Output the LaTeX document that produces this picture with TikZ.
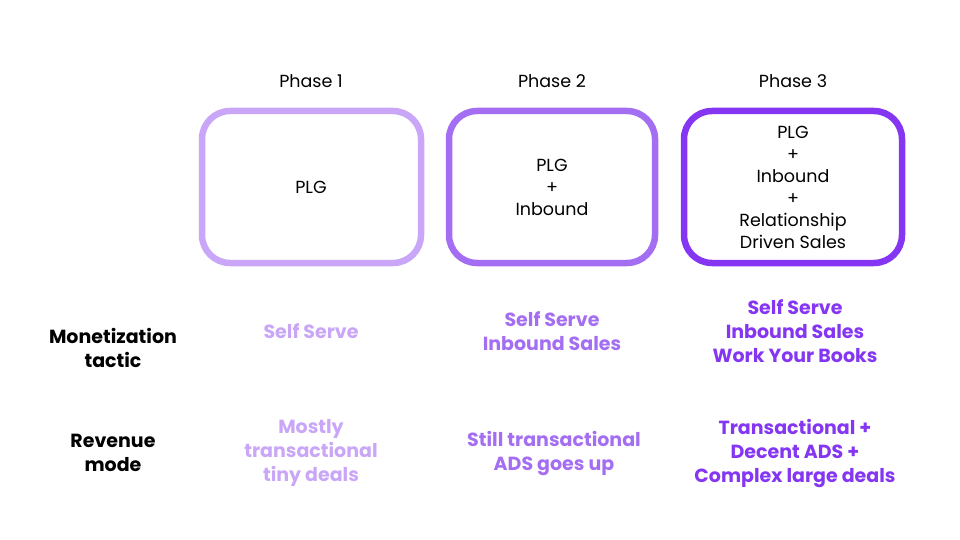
\documentclass[tikz,border=0pt]{standalone}
\usepackage{fontspec}
\setmainfont{Poppins}
\definecolor{pa}{HTML}{C9A6F7}
\definecolor{pb}{HTML}{A46EF3}
\definecolor{pc}{HTML}{8436F2}
\begin{document}
\begin{tikzpicture}[x=1pt,y=-1pt,
 box/.style={draw=#1,line width=6.5pt,rounded corners=28pt},
 lab/.style={font=\fontsize{17.5}{22}\selectfont,align=center},
 bt/.style={font=\fontsize{19}{24}\selectfont\bfseries,align=center,text=#1}]
\useasboundingbox (0,0) rectangle (960,540);
\draw[box=pa] (202,111) rectangle (421,263) coordinate (b1);
\draw[box=pb] (449,111) rectangle (655,263) coordinate (b2);
\draw[box=pc] (684,111) rectangle (902,263) coordinate (b3);
\node[lab] (h1) at (311,81) {Phase 1};
\node[lab] (h2) at (552,81) {Phase 2};
\node[lab] (h3) at (793,81) {Phase 3};
\node[lab] (t1) at (311,187) {PLG};
\node[lab] (t2) at (552,187) {PLG\\+\\Inbound};
\node[lab] (t3) at (793,187) {PLG\\+\\Inbound\\+\\Relationship\\Driven Sales};
\node[bt=black] (m) at (113,348) {Monetization\\tactic};
\node[bt=black] (r) at (113,453) {Revenue\\mode};
\node[bt=pa] (m1) at (311,331) {Self Serve};
\node[bt=pb] (m2) at (552,331) {Self Serve\\Inbound Sales};
\node[bt=pc] (m3) at (795,331) {Self Serve\\Inbound Sales\\Work Your Books};
\node[bt=pa] (r1) at (311,453) {Mostly\\transactional\\tiny deals};
\node[bt=pb] (r2) at (554,453) {Still transactional\\ADS goes up};
\node[bt=pc] (r3) at (795,453) {Transactional +\\Decent ADS +\\Complex large deals};
\end{tikzpicture}
\end{document}
